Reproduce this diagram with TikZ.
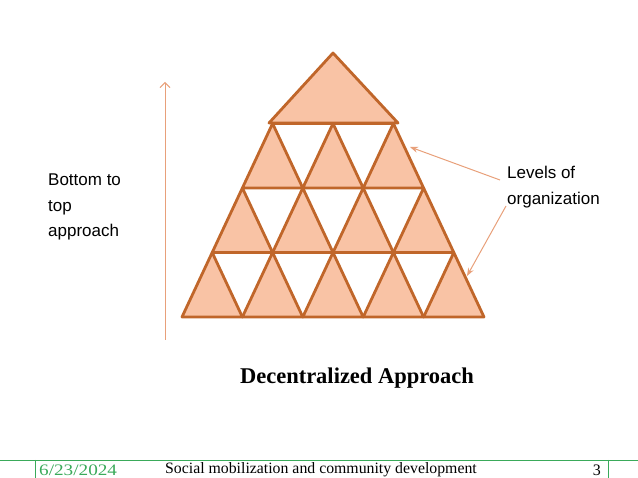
\documentclass[tikz,border=0pt]{standalone}
\usetikzlibrary{arrows.meta}
\usepackage{fontspec}
\setmainfont{Liberation Serif}
\newfontfamily\arial{Liberation Sans}
\definecolor{tri}{HTML}{F9C3A5}
\definecolor{edge}{HTML}{C0662A}
\definecolor{arr}{HTML}{E8A07A}
\definecolor{foot}{HTML}{3AAA5A}
\begin{document}
\begin{tikzpicture}[x=1pt,y=-1pt,
  tri/.style={fill=tri,draw=edge,line width=2.8pt,line join=round},
  lbl/.style={font=\arial\fontsize{17}{25.5}\selectfont,align=left,anchor=north west,inner sep=0pt},
  pointer/.style={draw=arr,line width=1pt,-{Stealth[length=8pt,width=6pt]}}]
\useasboundingbox (0,0) rectangle (638,478);
\def\w{60.4}\def\h{64.5}
% top triangle
\path[tri] (269,123) -- (333,53) -- (398,123) -- cycle;
% rows
\foreach \n/\yb in {3/188,4/252.5,5/317}{
  \pgfmathsetmacro{\xl}{333-\n*\w/2}
  \pgfmathsetmacro{\yt}{\yb-\h}
  \foreach \i in {1,...,\n}{
    \pgfmathsetmacro{\xa}{\xl+(\i-1)*\w}
    \path[tri] (\xa,\yb) -- (\xa+\w/2,\yt) -- (\xa+\w,\yb) -- cycle;
  }
  \draw[edge,line width=2.8pt] (\xl+\w/2,\yt) -- (\xl+\n*\w-\w/2,\yt);
}
\coordinate (r1) at (410,147);
\coordinate (r3) at (467,276);
% vertical arrow
\coordinate (vb) at (165,340);
\coordinate (vt) at (165,82);
\draw[arr,line width=0.9pt,-{Straight Barb[length=5pt]}] (vb) -- (vt);
\node[lbl] (bt) at (48,174) {Bottom to\\top\\approach};
\node[lbl] (lv) at (507,166) {Levels of\\organization};
\coordinate (s1) at (500,180);
\coordinate (s3) at (506,206);
\draw[pointer] (s1) -- (r1);
\draw[pointer] (s3) -- (r3);
\node[font=\bfseries\fontsize{22.5}{26}\selectfont] (title) at (357,378) {Decentralized Approach};
% footer
\coordinate (fl) at (0,460); \coordinate (fr) at (638,460);
\draw[foot,line width=0.7pt] (fl) -- (fr);
\draw[foot,line width=0.7pt] (35,460) -- (35,478);
\draw[foot,line width=0.7pt] (608,460) -- (608,478);
\node[font=\fontsize{16}{18}\selectfont,text=foot,anchor=west,inner sep=0pt] (date) at (39,470) {\scalebox{1.2}[1]{6/23/2024}};
\node[font=\fontsize{15.8}{18}\selectfont,anchor=west,inner sep=0pt] (ft) at (165,470) {Social mobilization and community development};
\node[font=\fontsize{16}{18}\selectfont,anchor=east,inner sep=0pt] (pg) at (601,470) {3};
\end{tikzpicture}
\end{document}
